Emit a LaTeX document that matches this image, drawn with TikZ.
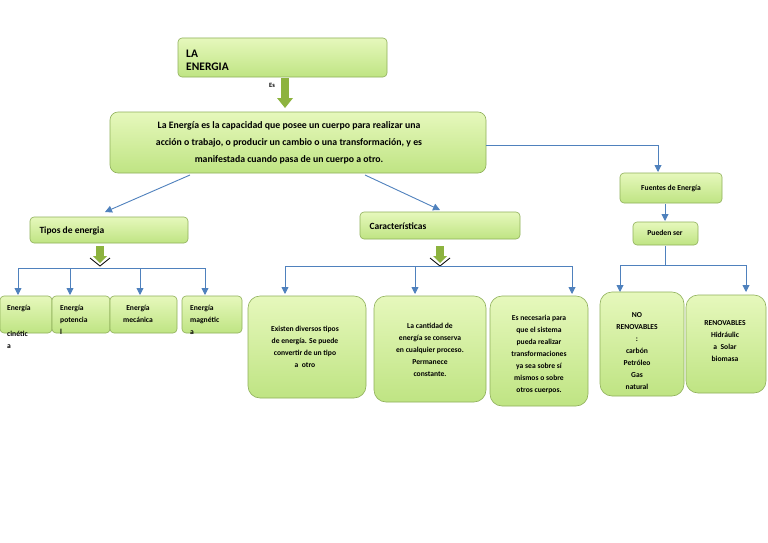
\documentclass[tikz,border=0pt]{standalone}
\usepackage{fontspec}
\setmainfont{Carlito}
\usetikzlibrary{arrows.meta}
\definecolor{gtop}{HTML}{E6F8BC}
\definecolor{gbot}{HTML}{BFE483}
\definecolor{gbd}{HTML}{8FB05A}
\definecolor{garr}{HTML}{8DB33F}
\definecolor{ablue}{HTML}{4F81BD}
\tikzset{
 box/.style={draw=gbd,rounded corners=4pt,top color=gtop,bottom color=gbot,line width=0.6pt},
 rbox/.style={box,rounded corners=12pt},
 con/.style={draw=ablue,line width=0.9pt},
 arr/.style={con,-{Triangle[length=7pt,width=7pt]}},
 txt/.style={font=\bfseries\fontsize{7.6}{12}\selectfont,align=center,text=black},
 ltxt/.style={txt,align=left},
}
\begin{document}
\begin{tikzpicture}[x=1pt,y=-1pt]
\useasboundingbox (0,0) rectangle (768,543);
\fill[white] (0,0) rectangle (768,543);
\draw[box] (178,38) rectangle (387,77);
\node[anchor=north west,font=\bfseries\fontsize{11.5}{13}\selectfont,align=left,inner sep=0pt] (la) at (186,50) {LA\\ENERGIA};
\node[font=\bfseries\fontsize{6.5}{7}\selectfont] (es) at (272,85) {Es};
\fill[garr] (281,78) rectangle (289,98);
\fill[garr] (277,98) -- (293,98) -- (285,108) -- cycle;
\draw[box,rounded corners=8pt] (110,112) rectangle (486,173);
\node[txt,font=\bfseries\fontsize{9.8}{17}\selectfont] (main) at (289,143) {La Energía es la capacidad que posee un cuerpo para realizar una\\acción o trabajo, o producir un cambio o una transformación, y es\\manifestada cuando pasa de un cuerpo a otro.};
\draw[box] (620,173) rectangle (722,203); \node[txt] (fu) at (671,188) {Fuentes de Energía};
\draw[box] (633,222) rectangle (698,245); \node[txt] (pu) at (665,233) {Pueden ser};
\draw[box] (30,217) rectangle (188,243); \node[txt,font=\bfseries\fontsize{9.5}{10}\selectfont,anchor=west] (ti) at (36,231) {Tipos de energia};
\draw[box] (360,212) rectangle (520,239); \node[txt,font=\bfseries\fontsize{9.5}{10}\selectfont,anchor=west] (ca) at (366,226) {Características};
\foreach \x in {100,440}{
 \fill[garr] (\x-4,246) rectangle (\x+4,256);
 \fill[garr] (\x-7,256) -- (\x+7,256) -- (\x,263) -- cycle;
 \draw[line width=0.8pt] (\x-10,258) -- (\x,266) -- (\x+10,258);}
\coordinate (m1) at (190,175); \coordinate (t1) at (105,212);
\draw[arr] (m1) -- (t1);
\coordinate (m2) at (365,175); \coordinate (c1) at (440,210);
\draw[arr] (m2) -- (c1);
\coordinate (m3) at (486,145);
\draw[arr] (m3) -- (658,145) -- (658,172);
\draw[arr] (665,204) -- (665,221);
\draw[con] (18,268) -- (205,268);
\foreach \x in {18,70,140,205} \draw[arr] (\x,268) -- (\x,295);
\draw[box] (0,296) rectangle (52,333);
\draw[box] (52,296) rectangle (110,333);
\draw[box] (110,296) rectangle (177,333);
\draw[box] (182,296) rectangle (242,333);
\node[ltxt,anchor=north west,inner sep=0pt] (e1) at (7,305) {Energía\\[14pt]cinétic\\a};
\node[ltxt,anchor=north west,inner sep=0pt] (e2) at (60,305) {Energía\\potencia\\l};
\node[txt,anchor=north,inner sep=0pt] (e3) at (138,305) {Energía\\mecánica};
\node[ltxt,anchor=north west,inner sep=0pt] (e4) at (190,305) {Energía\\magnétic\\a};
\draw[con] (285,266) -- (572,266);
\foreach \x in {285,415,572} \draw[arr] (\x,266) -- (\x,294);
\draw[rbox] (248,296) rectangle (366,398);
\draw[rbox] (374,296) rectangle (486,402);
\draw[rbox] (490,296) rectangle (588,406);
\node[txt] (k1) at (305,347) {Existen diversos tipos\\de energía. Se puede\\convertir de un tipo\\a\ \ otro};
\node[txt] (k2) at (430,350) {La cantidad de\\energía se conserva\\en cualquier proceso.\\Permanece\\constante.};
\node[txt] (k3) at (539,354) {Es necesaria para\\que el sistema\\pueda realizar\\transformaciones\\ya sea sobre sí\\mismos o sobre\\otros cuerpos.};
\draw[con] (665,246) -- (665,265);
\draw[con] (620,265) -- (746,265);
\foreach \x in {620,746} \draw[arr] (\x,265) -- (\x,292);
\draw[rbox] (600,292) rectangle (684,396);
\draw[rbox] (686,295) rectangle (766,393);
\node[txt,anchor=north,inner sep=0pt] (n1) at (637,312) {NO\\RENOVABLES\\:\\carbón\\Petróleo\\Gas\\natural};
\node[txt,anchor=north,inner sep=0pt] (n2) at (725,320) {RENOVABLES\\Hidráulic\\a\ \ Solar\\biomasa};
\end{tikzpicture}
\end{document}
